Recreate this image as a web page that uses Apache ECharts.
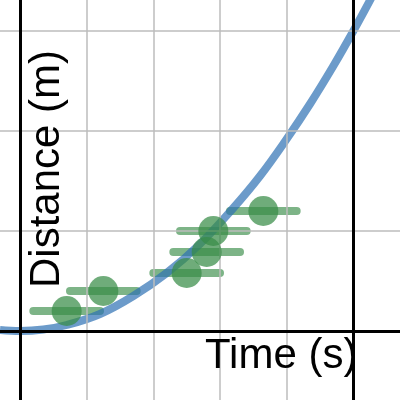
<!DOCTYPE html><html><head><meta charset="utf-8">
<script src="https://cdn.jsdelivr.net/npm/echarts@6/dist/echarts.min.js"></script>
<style>html,body{margin:0;padding:0;background:#fff}#c{width:400px;height:400px}</style></head><body><div id="c"></div>
<script>
const pointX = [0.7, 1.25, 2.5, 2.8, 2.9, 3.65];
const pointY = [0.2, 0.4, 0.58, 0.79, 1.0, 1.2];
const xErr = [0.56, 0.56, 0.56, 0.56, 0.56, 0.56];
const curveX = [-0.3, 0, 0.35, 0.7, 1.2, 1.7, 2.2, 2.7, 3.2, 3.6, 4.0, 4.35, 4.7, 5.0, 5.3, 5.7];
const curveY = [0.01, 0, 0.015, 0.06, 0.17, 0.35, 0.58, 0.87, 1.23, 1.55, 1.92, 2.27, 2.65, 3.0, 3.37, 3.9];
const gridX = [1, 2, 3, 4];
const gridY = [1, 2, 3];
const axisX = [0, 5];
const axisY = [0];

const chart = echarts.init(document.getElementById('c'), null, {renderer:'canvas'});
const thin = {color:'#bdbdbd', width:1.5, type:'solid'};
const thick = {color:'#000', width:3, type:'solid'};
chart.setOption({
  animation:false,
  grid:{left:0,right:0,top:0,bottom:0},
  xAxis:{type:'value',min:-0.3,max:5.7,show:false,splitLine:{show:false}},
  yAxis:{type:'value',min:-0.69,max:3.31,show:false,splitLine:{show:false}},
  series:[
    {type:'line',data:[],silent:true,markLine:{symbol:'none',silent:true,label:{show:false},lineStyle:thin,
      data:gridX.map(v=>({xAxis:v})).concat(gridY.map(v=>({yAxis:v})))}},
    {type:'line',data:[],silent:true,markLine:{symbol:'none',silent:true,label:{show:false},lineStyle:thick,
      data:axisX.map(v=>({xAxis:v})).concat(axisY.map(v=>({yAxis:v})))}},
    {type:'custom',z:3,data:pointX.map((x,i)=>[x,pointY[i],xErr[i]]),
      renderItem:(p,api)=>{const a=api.coord([api.value(0)-api.value(2),api.value(1)]);const b=api.coord([api.value(0)+api.value(2),api.value(1)]);
        return {type:'line',shape:{x1:a[0]+4,y1:a[1],x2:b[0]-4,y2:b[1]},style:{stroke:'rgba(56,140,70,0.65)',lineWidth:8,lineCap:'round'}};}},
    {type:'line',z:4,data:curveX.map((x,i)=>[x,curveY[i]]),smooth:0.4,symbol:'none',lineStyle:{color:'rgba(45,112,179,0.7)',width:8}},
    {type:'scatter',z:5,data:pointX.map((x,i)=>[x,pointY[i]]),symbolSize:30,itemStyle:{color:'rgba(56,140,70,0.9)'}}
  ],
  graphic:[
    {type:'text',left:205,top:335,z:10,style:{text:'Time (s)',font:'42px "Liberation Sans"',fill:'#000'}},
    {type:'text',x:26,y:288,rotation:Math.PI/2,z:10,style:{text:'Distance (m)',font:'42px "Liberation Sans"',fill:'#000'}}
  ]
});
</script></body></html>
